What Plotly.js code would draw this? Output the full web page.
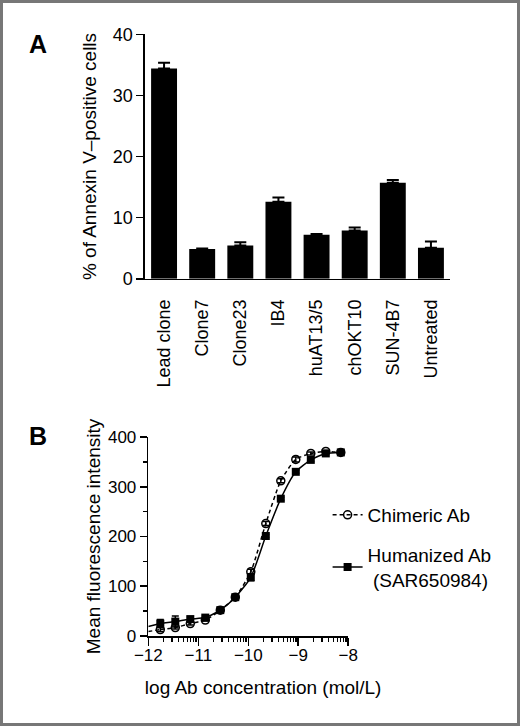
<!DOCTYPE html>
<html>
<head>
<meta charset="utf-8">
<script src="https://cdn.plot.ly/plotly-3.0.1.min.js"></script>
<style>
  html, body { margin: 0; padding: 0; background: #fff; }
  #wrap { position: relative; width: 520px; height: 726px; }
  #chart { position: absolute; left: 0; top: 0; width: 520px; height: 726px; }
  #frame { position: absolute; left: 0; top: 0; width: 520px; height: 726px; box-sizing: border-box; border: 3px solid #777; pointer-events: none; }
</style>
</head>
<body>
<div id="wrap"><div id="chart"></div><div id="frame"></div></div>
<script>
// ---- Panel A data ----
const categories = ['Lead clone', 'Clone7', 'Clone23', 'IB4', 'huAT13/5', 'chOKT10', 'SUN-4B7', 'Untreated'];
const annexinPct = [34.4, 4.85, 5.45, 12.6, 7.2, 7.9, 15.7, 5.05];
const annexinErr = [0.95, 0.1, 0.5, 0.7, 0.1, 0.5, 0.45, 1.05];

// ---- Panel B data ----
const logConc = [-11.76, -11.46, -11.16, -10.86, -10.56, -10.26, -9.95, -9.65, -9.35, -9.05, -8.75, -8.45, -8.15];
const chimericMFI = [13, 17, 25, 32, 52, 78, 129, 226, 312, 355, 367, 371, 369];
const chimericErr = [4, 3, 3, 2, 2, 2, 5, 4, 4, 5, 3, 2, 2];
const humanizedMFI = [25, 29, 34, 37, 52, 78, 118, 201, 276, 330, 354, 367, 369];
const humanizedErr = [8, 11, 4, 3, 2, 2, 7, 3, 3, 3, 3, 2, 2];
// curve start at the y axis (x = -12)
const curveStartX = [-12, -11.76];
const chimericStart = [9, 13];
const humanizedStart = [19, 25];

const yTicksA = [0, 10, 20, 30, 40];
const xTicksB = [-12, -11, -10, -9, -8];
const yTicksB = [0, 100, 200, 300, 400];

const FONT = 'Liberation Sans, Arial, Helvetica, sans-serif';
const DASH = '4px,3px';

// log minor tick positions (axis decoration)
const minorX = [];
for (let d = -12; d < -8; d++) for (let k = 2; k <= 9; k++) minorX.push(d + Math.log10(k));

const traces = [
  {
    type: 'bar', x: categories, y: annexinPct, xaxis: 'x', yaxis: 'y',
    marker: { color: '#000' }, width: 0.68, showlegend: false,
    error_y: { type: 'data', symmetric: false, array: annexinErr, arrayminus: annexinErr.map(() => 0),
               color: '#000', thickness: 2, width: 6 }
  },
  {
    type: 'scatter', mode: 'lines', x: curveStartX, y: chimericStart, xaxis: 'x2', yaxis: 'y2',
    line: { color: '#000', width: 1.5, dash: DASH }, showlegend: false, hoverinfo: 'skip'
  },
  {
    type: 'scatter', mode: 'lines', x: curveStartX, y: humanizedStart, xaxis: 'x2', yaxis: 'y2',
    line: { color: '#000', width: 1.5 }, showlegend: false, hoverinfo: 'skip'
  },
  {
    type: 'scatter', mode: 'lines+markers', name: 'Chimeric Ab', legendgroup: 'a', x: logConc, y: chimericMFI,
    xaxis: 'x2', yaxis: 'y2', cliponaxis: false,
    line: { color: '#000', width: 1.5, dash: DASH, shape: 'spline', smoothing: 0.6 },
    marker: { symbol: 'circle-open', size: 8, color: '#000', line: { width: 1.5, color: '#000' } },
    error_y: { type: 'data', array: chimericErr, color: '#000', thickness: 1.5, width: 3.5 }
  },
  {
    type: 'scatter', mode: 'lines+markers', name: 'Humanized Ab<br> (SAR650984)', legendgroup: 'b', x: logConc, y: humanizedMFI,
    xaxis: 'x2', yaxis: 'y2', cliponaxis: false,
    line: { color: '#000', width: 1.5, shape: 'spline', smoothing: 0.6 },
    marker: { symbol: 'square', size: 8, color: '#000' },
    error_y: { type: 'data', array: humanizedErr, color: '#000', thickness: 1.5, width: 3.5 }
  },
  // empty trace so the title-only axis exists
  { type: 'scatter', mode: 'markers', x: [], y: [], xaxis: 'x3', yaxis: 'y2', showlegend: false, hoverinfo: 'skip' }
];

const axisCommon = {
  showline: true, linecolor: '#000', linewidth: 1.6, showgrid: false, zeroline: false,
  ticks: 'outside', tickcolor: '#000', tickwidth: 1.6, ticklen: 7,
  tickfont: { family: FONT, size: 18, color: '#000' }, fixedrange: true
};

const layout = {
  width: 520, height: 726,
  margin: { l: 0, r: 0, t: 0, b: 0 },
  paper_bgcolor: '#fff', plot_bgcolor: 'rgba(0,0,0,0)',
  font: { family: FONT, color: '#000' },
  xaxis: Object.assign({}, axisCommon, {
    domain: [145 / 520, 450 / 520], anchor: 'y', type: 'category', range: [-0.5, 7.5],
    ticks: '', tickangle: -90, ticklabelstandoff: 12
  }),
  yaxis: Object.assign({}, axisCommon, {
    domain: [1 - 278.7 / 726, 1 - 34.3 / 726], anchor: 'x', range: [0, 40],
    tickmode: 'array', tickvals: yTicksA,
    title: { text: '% of Annexin V\u2013positive cells', font: { family: FONT, size: 19, color: '#000' } }
  }),
  xaxis2: Object.assign({}, axisCommon, {
    domain: [148.3 / 520, 348.3 / 520], anchor: 'y2', range: [-12, -8],
    tickmode: 'array', tickvals: xTicksB, ticklen: 8, ticklabelstandoff: -5,
    tickfont: { family: FONT, size: 17, color: '#000' },
    minor: { tickmode: 'array', tickvals: minorX, ticks: 'outside', ticklen: 4, tickcolor: '#000', tickwidth: 1.4, showgrid: false }
  }),
  xaxis3: {
    domain: [178 / 520, 348.3 / 520], anchor: 'y2', range: [-12, -8],
    showline: false, showgrid: false, zeroline: false, ticks: '', showticklabels: false, fixedrange: true,
    title: { text: 'log Ab concentration (mol/L)', font: { family: FONT, size: 19, color: '#000' }, standoff: 44 }
  },
  yaxis2: Object.assign({}, axisCommon, {
    domain: [1 - 636 / 726, 1 - 437 / 726], anchor: 'x2', range: [0, 400],
    tickmode: 'array', tickvals: yTicksB, tickfont: { family: FONT, size: 17, color: '#000' },
    minor: { dtick: 50, ticks: 'outside', ticklen: 4, tickcolor: '#000', tickwidth: 1.4, showgrid: false },
    title: { text: 'Mean fluorescence intensity', font: { family: FONT, size: 19, color: '#000' } }
  }),
  legend: {
    x: 0.63, y: 1 - 496 / 726, xanchor: 'left', yanchor: 'top',
    bgcolor: 'rgba(0,0,0,0)', font: { family: FONT, size: 19, color: '#000' },
    traceorder: 'grouped', tracegroupgap: 12
  },
  annotations: [
    { text: '<b>A</b>', xref: 'paper', yref: 'paper', x: 38 / 520, y: 1 - 44 / 726, showarrow: false,
      xanchor: 'center', yanchor: 'middle', font: { family: FONT, size: 25, color: '#000' } },
    { text: '<b>B</b>', xref: 'paper', yref: 'paper', x: 38 / 520, y: 1 - 436 / 726, showarrow: false,
      xanchor: 'center', yanchor: 'middle', font: { family: FONT, size: 25, color: '#000' } }
  ]
};

Plotly.newPlot('chart', traces, layout, { displayModeBar: false, staticPlot: true });
</script>
</body>
</html>
